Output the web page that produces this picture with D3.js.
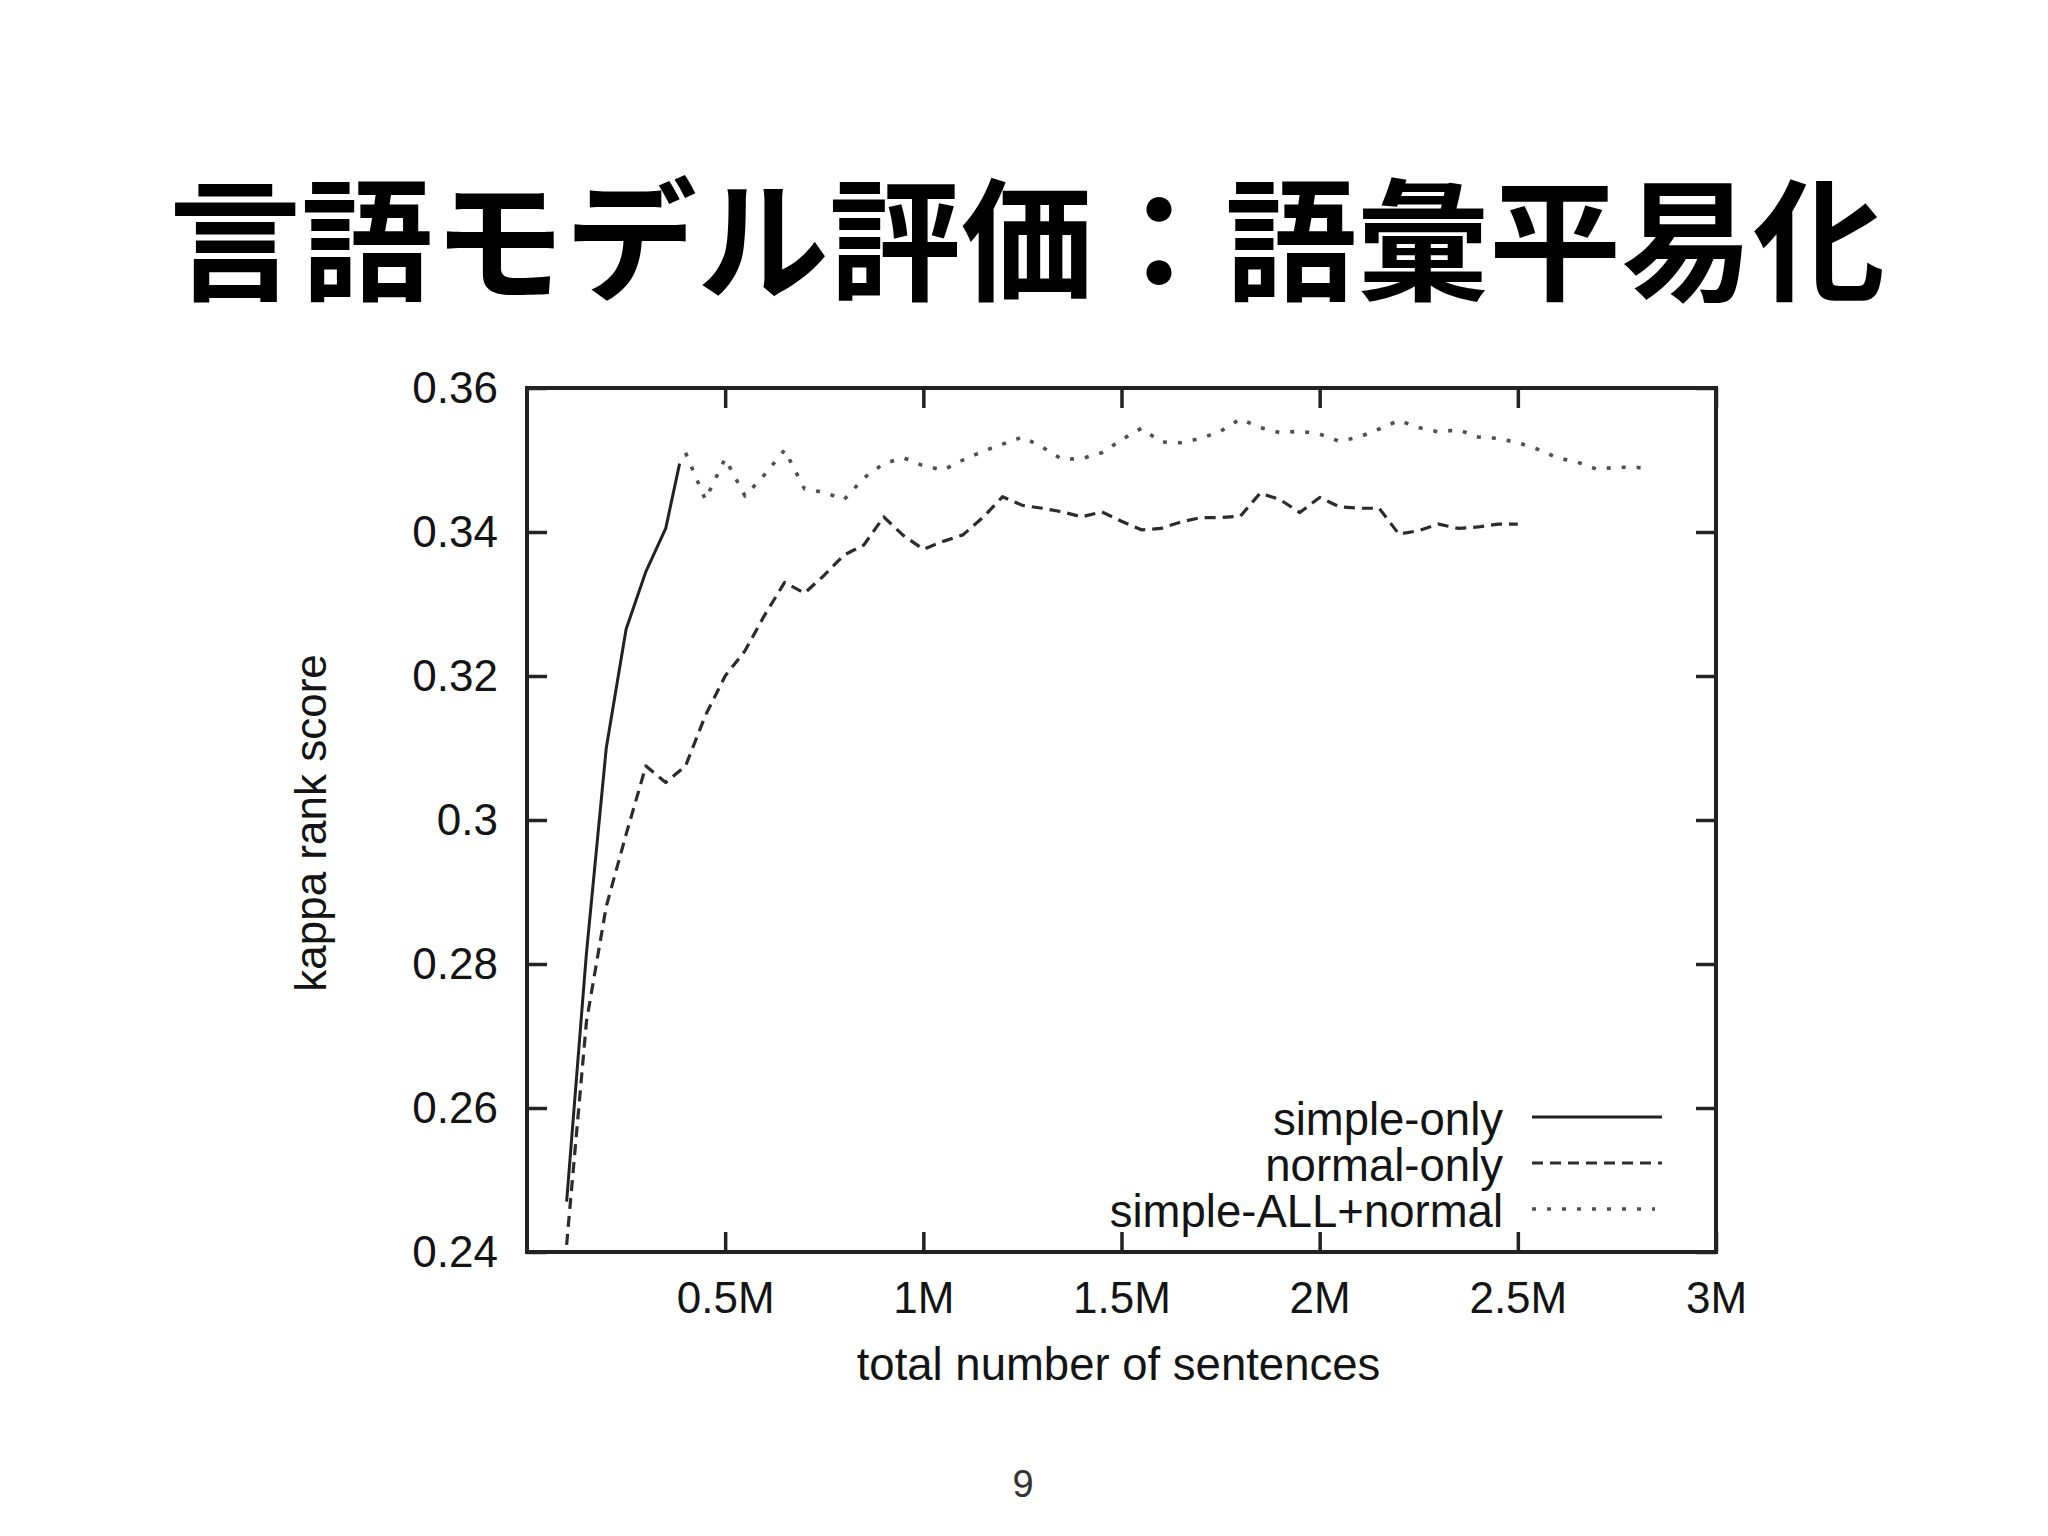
<!DOCTYPE html>
<html>
<head>
<meta charset="utf-8">
<script src="https://cdn.jsdelivr.net/npm/d3@7"></script>
<style>
  html, body { margin: 0; padding: 0; background: #fff; }
  svg { display: block; }
</style>
</head>
<body>
<svg id="chart" width="2048" height="1536"></svg>
<script>
// values (x in millions of sentences)
var simpleX = [0.10, 0.15, 0.20, 0.25, 0.30, 0.35, 0.385];
var simpleY = [0.2470, 0.2815, 0.3100, 0.3265, 0.3345, 0.3405, 0.3495];

var normalX = [0.10, 0.15, 0.20, 0.25, 0.30, 0.35, 0.40, 0.45, 0.50, 0.55, 0.60, 0.65, 0.70, 0.75,
    0.80, 0.85, 0.90, 0.95, 1.00, 1.05, 1.10, 1.15, 1.20, 1.25, 1.30, 1.35, 1.40, 1.45, 1.50, 1.55,
    1.60, 1.65, 1.70, 1.75, 1.80, 1.85, 1.90, 1.95, 2.00, 2.05, 2.10, 2.15, 2.20, 2.25, 2.30, 2.35,
    2.40, 2.45, 2.50];
var normalY = [0.2410, 0.2720, 0.2880, 0.2980, 0.3075, 0.3052, 0.3075, 0.3145, 0.3200, 0.3235,
    0.3285, 0.3330, 0.3315, 0.3340, 0.3368, 0.3382, 0.3421, 0.3395, 0.3376, 0.3387, 0.3396, 0.3420,
    0.3449, 0.3437, 0.3433, 0.3428, 0.3421, 0.3428, 0.3415, 0.3403, 0.3405, 0.3414, 0.3420, 0.3420,
    0.3422, 0.3454, 0.3445, 0.3427, 0.3448, 0.3435, 0.3433, 0.3433, 0.3397, 0.3402, 0.3411, 0.3405,
    0.3407, 0.3411, 0.3411];

var mixX = [0.40, 0.45, 0.50, 0.55, 0.60, 0.65, 0.70, 0.75, 0.80, 0.85, 0.90, 0.95, 1.00, 1.05,
    1.10, 1.15, 1.20, 1.25, 1.30, 1.35, 1.40, 1.45, 1.50, 1.55, 1.60, 1.65, 1.70, 1.75, 1.80, 1.85,
    1.90, 1.95, 2.00, 2.05, 2.10, 2.15, 2.20, 2.25, 2.30, 2.35, 2.40, 2.45, 2.50, 2.55, 2.60, 2.65,
    2.70, 2.75, 2.80, 2.83];
var mixY = [0.3510, 0.3445, 0.3502, 0.3450, 0.3480, 0.3514, 0.3460, 0.3455, 0.3445, 0.3475,
    0.3495, 0.3503, 0.3492, 0.3486, 0.3500, 0.3512, 0.3522, 0.3532, 0.3518, 0.3501, 0.3502, 0.3510,
    0.3528, 0.3544, 0.3525, 0.3524, 0.3530, 0.3540, 0.3557, 0.3545, 0.3538, 0.3540, 0.3536, 0.3526,
    0.3532, 0.3543, 0.3555, 0.3545, 0.3539, 0.3542, 0.3532, 0.3530, 0.3524, 0.3515, 0.3503, 0.3497,
    0.3487, 0.3490, 0.3490, 0.3487];

var seriesNames = ["simple-only", "normal-only", "simple-ALL+normal"];
var xTicks = [0.5, 1, 1.5, 2, 2.5, 3];
var xTickLabels = ["0.5M", "1M", "1.5M", "2M", "2.5M", "3M"];
var yTicks = [0.24, 0.26, 0.28, 0.30, 0.32, 0.34, 0.36];
var yTickLabels = ["0.24", "0.26", "0.28", "0.3", "0.32", "0.34", "0.36"];

var svg = d3.select("#chart");
var font = "'Liberation Sans', Arial, Helvetica, sans-serif";
var ink = "#141414";

// title + page number
svg.append("text")
    .attr("x", 1027).attr("y", 290)
    .attr("text-anchor", "middle")
    .style("font-family", "'Noto Sans CJK JP', sans-serif")
    .style("font-weight", "bold")
    .style("font-size", "132px")
    .style("fill", "#000")
    .text("言語モデル評価：語彙平易化");

svg.append("text")
    .attr("x", 1023).attr("y", 1497)
    .attr("text-anchor", "middle")
    .style("font-family", font)
    .style("font-size", "38px")
    .style("fill", "#333")
    .text("9");

// plot box (window.top is read-only, so own names here)
var pLeft = 527, pRight = 1716, pTop = 388, pBottom = 1252;
var x = d3.scaleLinear().domain([0, 3]).range([pLeft, pRight]);
var y = d3.scaleLinear().domain([0.24, 0.36]).range([pBottom, pTop]);

var g = svg.append("g").attr("class", "plot");

function fmtX(d) { return xTickLabels[xTicks.indexOf(d)]; }
function fmtY(d) { return yTickLabels[yTicks.indexOf(d)]; }

// axes, ticks inward like gnuplot
var axB = g.append("g").attr("transform", "translate(0," + pBottom + ")")
    .call(d3.axisBottom(x).tickValues(xTicks).tickFormat(fmtX).tickSizeInner(-20).tickSizeOuter(0).tickPadding(30));
var axT = g.append("g").attr("transform", "translate(0," + pTop + ")")
    .call(d3.axisTop(x).tickValues(xTicks).tickFormat("").tickSizeInner(-20).tickSizeOuter(0));
var axL = g.append("g").attr("transform", "translate(" + pLeft + ",0)")
    .call(d3.axisLeft(y).tickValues(yTicks).tickFormat(fmtY).tickSizeInner(-20).tickSizeOuter(0).tickPadding(29));
var axR = g.append("g").attr("transform", "translate(" + pRight + ",0)")
    .call(d3.axisRight(y).tickValues(yTicks).tickFormat("").tickSizeInner(-20).tickSizeOuter(0));

[axB, axT, axL, axR].forEach(function (a) {
    a.select(".domain").remove();
    a.selectAll(".tick line").attr("stroke", "#222").attr("stroke-width", 3.5);
    a.selectAll(".tick text")
        .style("font-family", font)
        .style("font-size", "44px")
        .style("fill", ink);
});

g.append("rect")
    .attr("x", pLeft).attr("y", pTop)
    .attr("width", pRight - pLeft).attr("height", pBottom - pTop)
    .attr("fill", "none").attr("stroke", "#222").attr("stroke-width", 4);

// axis titles
g.append("text")
    .attr("x", (pLeft + pRight) / 2 - 3).attr("y", 1380)
    .attr("text-anchor", "middle")
    .style("font-family", font).style("font-size", "45.5px").style("fill", ink)
    .text("total number of sentences");

g.append("text")
    .attr("transform", "translate(326,823) rotate(-90)")
    .attr("text-anchor", "middle")
    .style("font-family", font).style("font-size", "44px").style("fill", ink)
    .text("kappa rank score");

// series
var styles = [
    { stroke: "#222", dash: null, width: 3 },
    { stroke: "#2c2c2c", dash: "11,7", width: 3.2 },
    { stroke: "#505050", dash: "4,11", width: 3.6 }
];
var series = [
    d3.zip(simpleX, simpleY),
    d3.zip(normalX, normalY),
    d3.zip(mixX, mixY)
];

var line = d3.line()
    .x(function (d) { return x(d[0]); })
    .y(function (d) { return y(d[1]); });

series.forEach(function (s, i) {
    g.append("path")
        .datum(s)
        .attr("d", line)
        .attr("fill", "none")
        .attr("stroke", styles[i].stroke)
        .attr("stroke-width", styles[i].width)
        .attr("stroke-dasharray", styles[i].dash)
        .attr("stroke-linejoin", "round");
});

// legend
var leg = g.append("g").attr("class", "legend");
seriesNames.forEach(function (name, i) {
    var by = 1135 + i * 46;
    leg.append("text")
        .attr("x", 1503).attr("y", by)
        .attr("text-anchor", "end")
        .style("font-family", font).style("font-size", "45.5px").style("fill", ink)
        .text(name);
    leg.append("line")
        .attr("x1", 1532).attr("x2", i == 2 ? 1655 : 1662)
        .attr("y1", by - 18).attr("y2", by - 18)
        .attr("stroke", styles[i].stroke)
        .attr("stroke-width", styles[i].width)
        .attr("stroke-dasharray", styles[i].dash);
});
</script>
</body>
</html>
